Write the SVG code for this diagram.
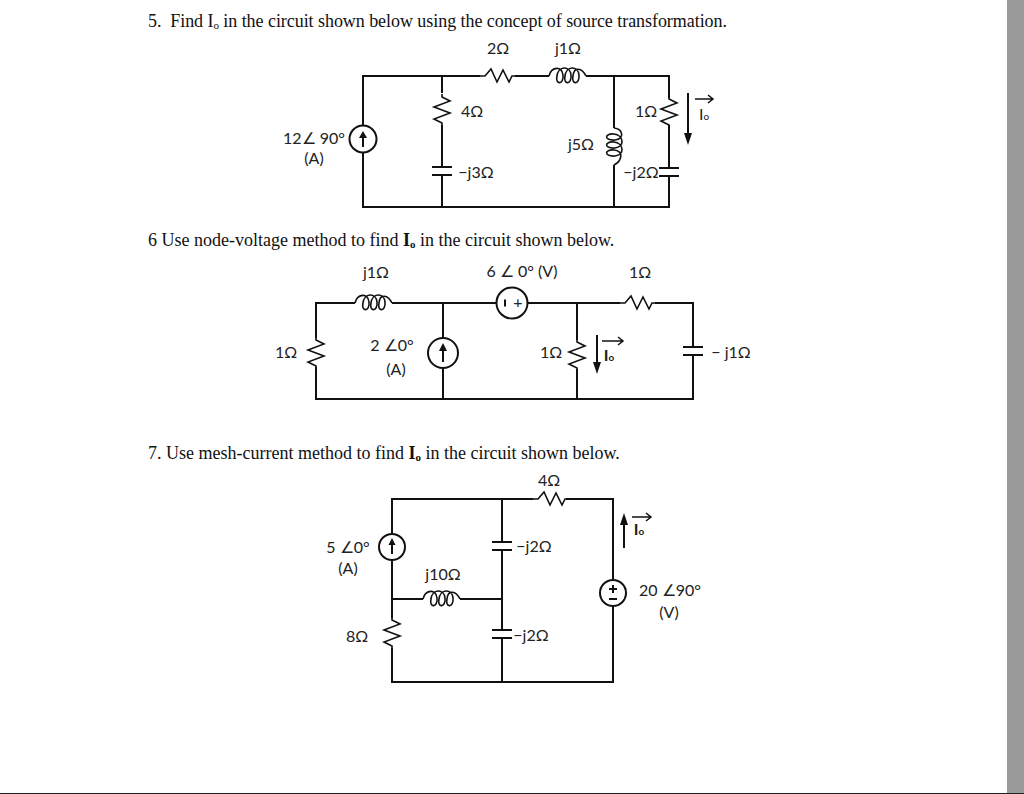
<svg xmlns="http://www.w3.org/2000/svg" width="1024" height="794" viewBox="0 0 1024 794">
<style>
.w{fill:none;stroke:#111;stroke-width:2}
.c{fill:none;stroke:#111;stroke-width:1.6}
.t{font-family:"Liberation Serif",serif;font-size:18px;fill:#111}
.l{font-family:Lato,"Open Sans","Liberation Sans",sans-serif;font-size:16px;fill:#222;text-anchor:middle}
.s{fill:#fff;stroke:#111;stroke-width:2}
.h{fill:#111}
.th{fill:none;stroke:#111;stroke-width:1.5}
.b{font-weight:bold}
</style>
<defs>
<path id="rh" class="c" d="M0,0 H5 L11,-7 L17,6 L23,-6 L29,6 L32,0 H35"/>
<path id="rv" class="c" d="M0,0 V3 L8,7 L-8,13 L8,19 L-8,25 L0,29 V32"/>
<path id="lh" class="c" d="M0,0 C2,-9 13,-11 14,-1 C15,9 6,9 8,0 C9,-10 21,-11 22,-1 C23,9 14,9 16,0 C17,-10 29,-11 30,-1 C31,9 22,9 24,0 C25,-10 33,-8 37,0"/>
<path id="lv" class="c" d="M0,0 C9,1 11,11 1,12 C-10,13 -10,5 0,6 C10,7 11,19 1,20 C-10,21 -10,13 0,14 C10,15 11,27 1,28 C-10,29 -10,21 0,22 C10,23 8,33 0,37"/>
<g id="cap"><path class="w" d="M-10,0 H10 M-10,8 H10"/></g>
<g id="isrc"><circle class="s" r="13.5"/><path class="w" d="M0,8 V-3"/><path class="h" d="M0,-8 L-4,-1 H4 Z"/></g>
</defs>
<rect width="1024" height="794" fill="#fff"/>
<rect x="1007" width="17" height="794" fill="#9a9a9a"/>
<rect y="793" width="1024" height="1" fill="#222"/>

<g id="headings">
<text class="t" x="148" y="27" xml:space="preserve" textLength="579">5.  Find I<tspan font-size="11" dy="2">o</tspan><tspan dy="-2"> in the circuit shown below using the concept of source transformation.</tspan></text>
<text class="t" x="148" y="246">6 Use node-voltage method to find <tspan class="b">I</tspan><tspan class="b" font-size="11" dy="2">o</tspan><tspan dy="-2"> in the circuit shown below.</tspan></text>
<text class="t" x="148" y="459">7. Use mesh-current method to find <tspan class="b">I</tspan><tspan class="b" font-size="11" dy="2">o</tspan><tspan dy="-2"> in the circuit shown below.</tspan></text>
</g>

<g id="connectors">
<path class="w" d="M363,125 V76 H480 M515,76 H549 M586,76 H669 V98 M363,153 V207 H669 V176 M669,168 V125 M442,76 V93 M442,125 V167 M442,176 V207 M614,76 V128 M614,165 V207"/>
<path class="w" d="M316,338 V303 H355 M392,303 H496 M528,303 H620 M655,303 H693 V347 M693,354 V399 H316 V367 M443,303 V338 M443,368 V399 M577,303 V340 M577,369 V399"/>
<path class="w" d="M392,533 V499 H533 M566,499 H613 V579 M613,607 V682 H392 V648 M392,561 V618 M392,599 H423 M460,599 H502 M502,499 V542 M502,549 V630 M502,637 V682"/>
</g>

<g id="c1-r2"><use href="#rh" x="480" y="76"/><text class="l" x="498" y="54">2Ω</text></g>
<g id="c1-l1"><use href="#lh" x="549" y="76"/><text class="l" x="568" y="54">j1Ω</text></g>
<g id="c1-src"><use href="#isrc" x="363" y="139"/><text class="l" x="314" y="144">12∠ 90°</text><text class="l" x="314" y="164">(A)</text></g>
<g id="c1-r4"><use href="#rv" x="442" y="94"/><text class="l" x="472" y="117">4Ω</text></g>
<g id="c1-c3"><use href="#cap" x="442" y="167"/><text class="l" x="476" y="178">−j3Ω</text></g>
<g id="c1-l5"><use href="#lv" x="614" y="128"/><text class="l" x="581" y="150">j5Ω</text></g>
<g id="c1-r1"><use href="#rv" x="669" y="96"/><text class="l" x="646" y="117">1Ω</text></g>
<g id="c1-c2"><use href="#cap" x="669" y="168"/><text class="l" x="641" y="178">−j2Ω</text></g>
<g id="c1-io"><path class="w" d="M688,93 V134"/><path class="h" d="M688,145 L684,133 H692 Z"/><path class="th" d="M695,99 H712 M708,95 L713,99 L708,103"/><text class="l" x="704" y="120">I<tspan font-size="10">o</tspan></text></g>

<g id="c2-r1a"><use href="#rv" x="316" y="337"/><text class="l" x="286" y="358">1Ω</text></g>
<g id="c2-l1"><use href="#lh" x="355" y="303"/><text class="l" x="376" y="278">j1Ω</text></g>
<g id="c2-isrc"><circle class="s" cx="443" cy="353" r="15"/><path class="w" d="M443,362 V349"/><path class="h" d="M443,343 L439,351 H447 Z"/><text class="l" x="392" y="351">2 ∠0°</text><text class="l" x="396" y="375">(A)</text></g>
<g id="c2-vsrc"><circle class="s" cx="512" cy="303" r="15.5"/><path class="w" d="M505,299.500 V306.500" stroke-width="1.500"/><text class="l" x="518" y="308" font-size="14">+</text><text class="l" x="522" y="277">6 ∠ 0° (V)</text></g>
<g id="c2-r1b"><use href="#rh" x="620" y="303"/><text class="l" x="640" y="278">1Ω</text></g>
<g id="c2-r1c"><use href="#rv" x="577" y="339"/><text class="l" x="551" y="358">1Ω</text></g>
<g id="c2-io"><path class="w" d="M597,335 V364"/><path class="h" d="M597,374 L593,362 H601 Z"/><path class="th" d="M602,341 H622 M618,337 L623,341 L618,345"/><text class="l b" x="609" y="361">I<tspan font-size="10">o</tspan></text></g>
<g id="c2-c1"><use href="#cap" x="693" y="347"/><text class="l" x="731" y="358">− j1Ω</text></g>

<g id="c3-isrc"><circle class="s" cx="392" cy="547" r="13"/><path class="w" d="M392,554 V544"/><path class="h" d="M392,538 L388.500,545 H395.500 Z"/><text class="l" x="348" y="553">5 ∠0°</text><text class="l" x="348" y="574">(A)</text></g>
<g id="c3-r4"><use href="#rh" x="533" y="499"/><text class="l" x="549" y="486">4Ω</text></g>
<g id="c3-c1"><use href="#cap" x="502" y="542"/><text class="l" x="534" y="552">−j2Ω</text></g>
<g id="c3-l10"><use href="#lh" x="423" y="599"/><text class="l" x="443" y="580">j10Ω</text></g>
<g id="c3-r8"><use href="#rv" x="392" y="617"/><text class="l" x="357" y="642">8Ω</text></g>
<g id="c3-c2"><use href="#cap" x="502" y="630"/><text class="l" x="531" y="641">−j2Ω</text></g>
<g id="c3-vsrc"><circle class="s" cx="613" cy="593" r="13"/><path class="w" d="M609,589 H617 M613,585 V593 M609,599 H617" stroke-width="1.500"/><text class="l" x="670" y="596">20 ∠90°</text><text class="l" x="669" y="618">(V)</text></g>
<g id="c3-io"><path class="w" d="M624,548 V522"/><path class="h" d="M624,513 L620,525 H628 Z"/><path class="th" d="M632,517 H650 M646,513 L651,517 L646,521"/><text class="l b" x="639" y="535">I<tspan font-size="10">o</tspan></text></g>
</svg>
